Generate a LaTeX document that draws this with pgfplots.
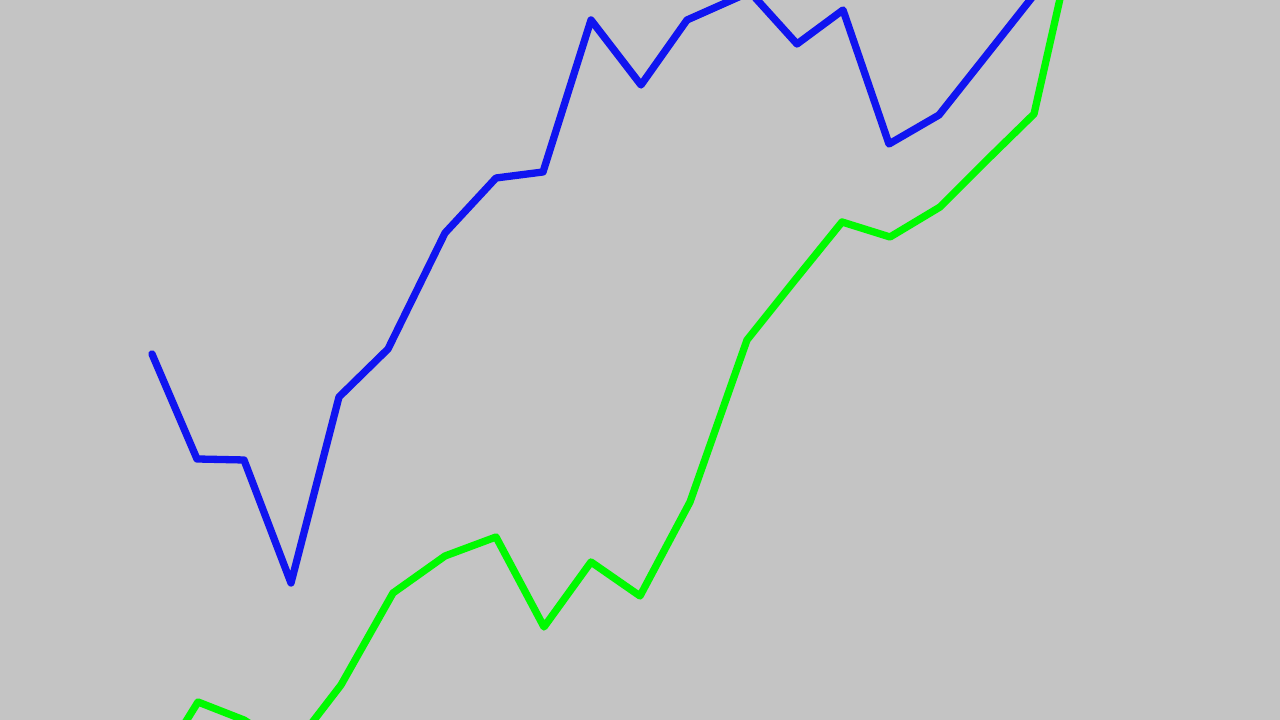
\documentclass[border=0pt]{standalone}
\usepackage{pgfplots}
\pgfplotsset{compat=1.18}
\definecolor{bg}{RGB}{196,196,196}
\definecolor{lblue}{RGB}{16,20,240}
\definecolor{lgreen}{RGB}{0,250,0}
\begin{document}
\begin{tikzpicture}
\begin{axis}[
  scale only axis, width=16cm, height=9cm,
  xmin=0, xmax=1280, ymin=0, ymax=720,
  axis lines=none, ticks=none,
  axis background/.style={fill=bg},
  clip=true,
]
\addplot[lblue, line width=2.6pt, line join=round, line cap=round] coordinates {
(152,366) (197,261) (244,260) (291,137) (339,323) (388,371) (445,487) (496,542)
(543,548) (591,700) (641,635) (687,700) (750,728) (797,676) (843,710) (889,576)
(939,605) (985,663) (1034,725) (1080,780)
};
\addplot[lgreen, line width=2.6pt, line join=round, line cap=round] coordinates {
(152,-56) (198,18) (244,0) (291,-30) (341,35) (393,127) (445,164) (496,183)
(544,93) (591,158) (640,124) (690,218) (747,380) (795,440) (842,498) (890,483)
(940,513) (987,560) (1034,606) (1080,810)
};
\end{axis}
\end{tikzpicture}
\end{document}
